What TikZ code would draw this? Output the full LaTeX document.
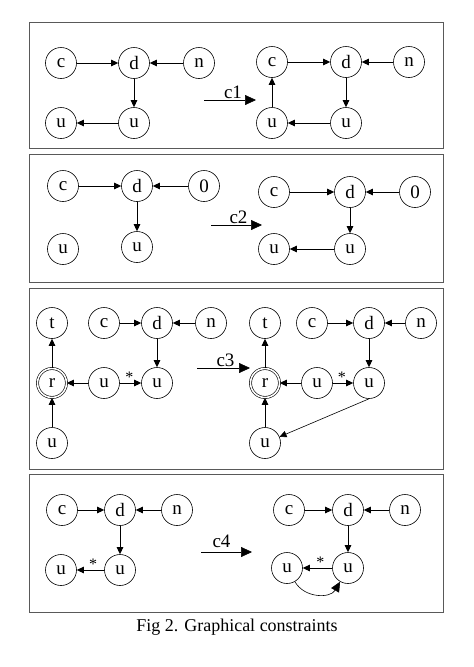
\documentclass[tikz,border=0pt]{standalone}
\usepackage{fontspec}
\setmainfont{Liberation Serif}
\usetikzlibrary{arrows.meta}
\begin{document}
\begin{tikzpicture}[x=1pt,y=-1pt,
  nd/.style={circle,draw,line width=0.6pt,minimum size=31pt,inner sep=0pt,font=\fontsize{19}{19}\selectfont},
  dnd/.style={nd,double,double distance=1.6pt,minimum size=29pt},
  ed/.style={line width=0.6pt,-{Triangle[length=7pt,width=6.5pt]}},
  big/.style={line width=0.6pt,-{Triangle[length=11pt,width=10pt]}},
  lab/.style={font=\fontsize{19}{19}\selectfont,inner sep=1pt},
  star/.style={font=\fontsize{16}{16}\selectfont,inner sep=0pt},
  panel/.style={draw=black!65,line width=1pt}]
\useasboundingbox (0,0) rectangle (474,667);
% panels
\draw[panel] (29,22) rectangle (443,148);
\draw[panel] (29,154) rectangle (443,282);
\draw[panel] (29,288) rectangle (443,469);
\draw[panel] (29,474) rectangle (443,612);
% ---------- panel 1
\node[nd] (a1c) at (61,63) {c};
\node[nd] (a1d) at (134,63) {d};
\node[nd] (a1n) at (199,63) {n};
\node[nd] (a1u) at (134,123) {u};
\node[nd] (a1v) at (61,123) {u};
\draw[ed] (a1c) -- (a1d);
\draw[ed] (a1n) -- (a1d);
\draw[ed] (a1d) -- (a1u);
\draw[ed] (a1u) -- (a1v);
\coordinate (k1s) at (204,100); \coordinate (k1e) at (256,100);
\draw[big] (k1s) -- node[lab,above,xshift=3pt] {c1} (k1e);
\node[nd] (b1c) at (272,62) {c};
\node[nd] (b1d) at (346,62) {d};
\node[nd] (b1n) at (409,62) {n};
\node[nd] (b1u) at (346,123) {u};
\node[nd] (b1v) at (272,123) {u};
\draw[ed] (b1c) -- (b1d);
\draw[ed] (b1n) -- (b1d);
\draw[ed] (b1d) -- (b1u);
\draw[ed] (b1u) -- (b1v);
\draw[ed] (b1v) -- (b1c);
% ---------- panel 2
\node[nd] (a2c) at (63,186) {c};
\node[nd] (a2d) at (137,186) {d};
\node[nd] (a2n) at (204,186) {0};
\node[nd] (a2u) at (137,247) {u};
\node[nd] (a2v) at (63,249) {u};
\draw[ed] (a2c) -- (a2d);
\draw[ed] (a2n) -- (a2d);
\draw[ed] (a2d) -- (a2u);
\coordinate (k2s) at (211,225); \coordinate (k2e) at (262,225);
\draw[big] (k2s) -- node[lab,above,xshift=2pt] {c2} (k2e);
\node[nd] (b2c) at (274,192) {c};
\node[nd] (b2d) at (350,192) {d};
\node[nd] (b2n) at (415,192) {0};
\node[nd] (b2u) at (350,249) {u};
\node[nd] (b2v) at (274,249) {u};
\draw[ed] (b2c) -- (b2d);
\draw[ed] (b2n) -- (b2d);
\draw[ed] (b2d) -- (b2u);
\draw[ed] (b2u) -- (b2v);
% ---------- panel 3
\node[nd] (a3t) at (52,323) {t};
\node[nd] (a3c) at (104,323) {c};
\node[nd] (a3d) at (157,323) {d};
\node[nd] (a3n) at (211,323) {n};
\node[dnd] (a3r) at (52,383) {r};
\node[nd] (a3m) at (104,383) {u};
\node[nd] (a3u) at (157,383) {u};
\node[nd] (a3b) at (52,443) {u};
\draw[ed] (a3r) -- (a3t);
\draw[ed] (a3b) -- (a3r);
\draw[ed] (a3m) -- (a3r);
\draw[ed] (a3m) -- node[star,above,pos=0.45,yshift=0pt] {*} (a3u);
\draw[ed] (a3c) -- (a3d);
\draw[ed] (a3n) -- (a3d);
\draw[ed] (a3d) -- (a3u);
\coordinate (k3s) at (197,368); \coordinate (k3e) at (250,368);
\draw[big] (k3s) -- node[lab,above,xshift=2pt] {c3} (k3e);
\node[nd] (b3t) at (265,323) {t};
\node[nd] (b3c) at (312,323) {c};
\node[nd] (b3d) at (369,323) {d};
\node[nd] (b3n) at (421,323) {n};
\node[dnd] (b3r) at (265,383) {r};
\node[nd] (b3m) at (317,383) {u};
\node[nd] (b3u) at (369,383) {u};
\node[nd] (b3b) at (265,443) {u};
\draw[ed] (b3r) -- (b3t);
\draw[ed] (b3b) -- (b3r);
\draw[ed] (b3m) -- (b3r);
\draw[ed] (b3m) -- node[star,above,pos=0.45,yshift=0pt] {*} (b3u);
\draw[ed] (b3c) -- (b3d);
\draw[ed] (b3n) -- (b3d);
\draw[ed] (b3d) -- (b3u);
\draw[ed] (b3u.south) -- (b3b);
% ---------- panel 4
\node[nd] (a4c) at (62,510) {c};
\node[nd] (a4d) at (120,510) {d};
\node[nd] (a4n) at (177,510) {n};
\node[nd] (a4u) at (120,570) {u};
\node[nd] (a4v) at (61,570) {u};
\draw[ed] (a4c) -- (a4d);
\draw[ed] (a4n) -- (a4d);
\draw[ed] (a4d) -- (a4u);
\draw[ed] (a4u) -- node[star,above,pos=0.4,yshift=0pt] {*} (a4v);
\coordinate (k4s) at (201,552); \coordinate (k4e) at (252,552);
\draw[big] (k4s) -- node[lab,above,yshift=3pt,xshift=-5pt] {c4} (k4e);
\node[nd] (b4c) at (289,510) {c};
\node[nd] (b4d) at (348,510) {d};
\node[nd] (b4n) at (405,510) {n};
\node[nd] (b4u) at (348,568) {u};
\node[nd] (b4v) at (287,568) {u};
\draw[ed] (b4c) -- (b4d);
\draw[ed] (b4n) -- (b4d);
\draw[ed] (b4d) -- (b4u);
\draw[ed] (b4u) -- node[star,above,pos=0.4,yshift=0pt] {*} (b4v);
\draw[ed,-{Triangle[length=10pt,width=9pt]}] (b4v) to[out=-60,in=-120,looseness=1.1] (b4u);
% caption
\node[font=\fontsize{18}{18}\selectfont] (cap) at (237,627) {Fig 2. Graphical constraints};
\end{tikzpicture}
\end{document}
